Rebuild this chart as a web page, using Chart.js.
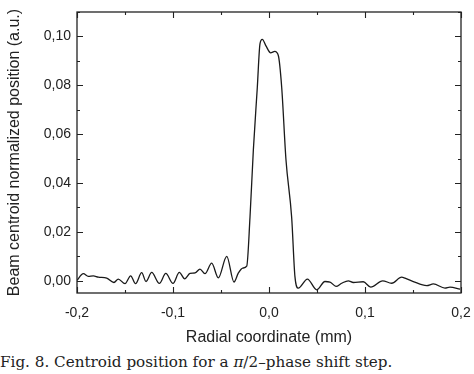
<!DOCTYPE html>
<html>
<head>
<meta charset="utf-8">
<script src="https://cdn.jsdelivr.net/npm/chart.js@4.4.1/dist/chart.umd.min.js"></script>
<style>
body { margin: 0; background: #fff; }
#wrap { position: relative; width: 474px; height: 374px; }
#caption {
    position: absolute; left: 0; top: 353px;
    font-family: 'DejaVu Serif', serif; font-size: 15.2px; color: #222;
    white-space: nowrap;
}
</style>
</head>
<body>
<div id="wrap">
    <canvas id="myChart" width="474" height="348"></canvas>
    <div id="caption">Fig. 8. Centroid position for a <i>π</i>/2–phase shift step.</div>
</div>
<script>
// radial coordinate (mm) and normalized centroid position
let radial = [
    -0.200, -0.1934, -0.1882, -0.1830, -0.1778, -0.1690, -0.1615, -0.1570, -0.1500, -0.1441,
    -0.1390, -0.1326, -0.1281, -0.1222, -0.1142, -0.1075, -0.1000, -0.0934, -0.0878, -0.0823,
    -0.0770, -0.0719, -0.0667, -0.0597, -0.0528, -0.0440, -0.0365, -0.0320, -0.0274, -0.0232,
    -0.0198, -0.0163, -0.0122, -0.0094, -0.0070, -0.0030, 0.0017, 0.0060, 0.0097, 0.0132,
    0.0177, 0.0236, 0.0270, 0.0305, 0.0400, 0.0497, 0.0583, 0.0635, 0.0698, 0.0757,
    0.0826, 0.0878, 0.0982, 0.1060, 0.1184, 0.1278, 0.1382, 0.1417, 0.1503, 0.1643,
    0.1712, 0.1833, 0.1885, 0.1990
];
let centroid = [
    0.0002, 0.0029, 0.0018, 0.0020, 0.0015, 0.0011, -0.0007, 0.0007, -0.0012, 0.0020,
    -0.0012, 0.0033, -0.0003, 0.0034, -0.0011, 0.0030, -0.0011, 0.0034, 0.0008, 0.0030,
    0.0032, 0.0048, 0.0029, 0.0072, 0.0012, 0.0100, -0.0005, 0.0031, 0.0052, 0.0060,
    0.0260, 0.0535, 0.0790, 0.0970, 0.0988, 0.0960, 0.0933, 0.0939, 0.0922, 0.0793,
    0.0494, 0.0260, 0.0018, -0.0030, 0.0007, -0.0037, -0.0003, -0.0005, -0.0023, -0.0010,
    0.0000, -0.0007, -0.0004, -0.0026, 0.0000, -0.0010, 0.0015, 0.0011, -0.0003, -0.0020,
    -0.0013, -0.0030, -0.0026, -0.0034
];

// tick labels
let xTicks = [-0.2, -0.1, 0.0, 0.1, 0.2];
let yTicks = [0.00, 0.02, 0.04, 0.06, 0.08, 0.10];

const fontFamily = "'Liberation Sans', Arial, sans-serif";
const inkColor = '#222';

// frame box with inward major/minor ticks on all four sides
const frameTicks = {
    id: 'frameTicks',
    afterDatasetsDraw(chart) {
        const { ctx, chartArea: a, scales } = chart;
        const x = scales.x, y = scales.y;
        ctx.save();
        ctx.strokeStyle = inkColor;
        ctx.lineWidth = 1.3;
        ctx.strokeRect(a.left, a.top, a.right - a.left, a.bottom - a.top);
        ctx.lineWidth = 1.1;
        ctx.beginPath();
        for (let i = 0; i <= 8; i++) {
            let v = -0.2 + i * 0.05;
            let len = (i % 2 === 0) ? 6 : 3;
            let px = Math.round(x.getPixelForValue(v)) + 0.5;
            ctx.moveTo(px, a.bottom); ctx.lineTo(px, a.bottom - len);
            ctx.moveTo(px, a.top); ctx.lineTo(px, a.top + len);
        }
        for (let i = 0; i <= 11; i++) {
            let v = i * 0.01;
            let len = (i % 2 === 0) ? 6 : 3;
            let py = Math.round(y.getPixelForValue(v)) + 0.5;
            ctx.moveTo(a.left, py); ctx.lineTo(a.left + len, py);
            ctx.moveTo(a.right, py); ctx.lineTo(a.right - len, py);
        }
        ctx.stroke();
        ctx.restore();
    }
};

const chart = document.getElementById('myChart').getContext('2d');
const myChart = new Chart(chart, {
    type: 'line',
    data: {
        datasets: [{
            label: 'Centroid',
            data: radial.map((r, i) => ({ x: r, y: centroid[i] })),
            borderColor: '#1a1a1a',
            borderWidth: 1.3,
            pointRadius: 0,
            fill: false,
            cubicInterpolationMode: 'monotone'
        }]
    },
    options: {
        responsive: false,
        animation: false,
        layout: { padding: { top: 12, right: 13, left: 0, bottom: 0 } },
        plugins: {
            legend: { display: false },
            tooltip: { enabled: false }
        },
        scales: {
            x: {
                type: 'linear',
                min: -0.2,
                max: 0.2,
                afterFit(scale) {
                    scale.height = 55;
                    scale.paddingLeft = 0;
                    scale.paddingRight = 0;
                },
                afterBuildTicks(scale) { scale.ticks = xTicks.map(v => ({ value: v })); },
                grid: { display: false, drawTicks: false },
                border: { display: false },
                ticks: {
                    font: { family: fontFamily, size: 14 },
                    color: inkColor,
                    padding: 12,
                    maxRotation: 0,
                    callback: v => v.toFixed(1).replace('.', ',')
                },
                title: {
                    display: true,
                    text: 'Radial coordinate (mm)',
                    font: { family: fontFamily, size: 16 },
                    color: inkColor,
                    padding: { top: 4, bottom: 1 }
                }
            },
            y: {
                type: 'linear',
                min: -0.005,
                max: 0.11,
                afterFit(scale) {
                    scale.width = 77;
                    scale.paddingTop = 0;
                    scale.paddingBottom = 0;
                },
                afterBuildTicks(scale) { scale.ticks = yTicks.map(v => ({ value: v })); },
                grid: { display: false, drawTicks: false },
                border: { display: false },
                ticks: {
                    font: { family: fontFamily, size: 14 },
                    color: inkColor,
                    padding: 6,
                    callback: v => v.toFixed(2).replace('.', ',')
                },
                title: {
                    display: true,
                    text: 'Beam centroid normalized position (a.u.)',
                    font: { family: fontFamily, size: 16 },
                    color: inkColor,
                    padding: { top: 5, bottom: 4 }
                }
            }
        }
    },
    plugins: [frameTicks]
});
</script>
</body>
</html>
